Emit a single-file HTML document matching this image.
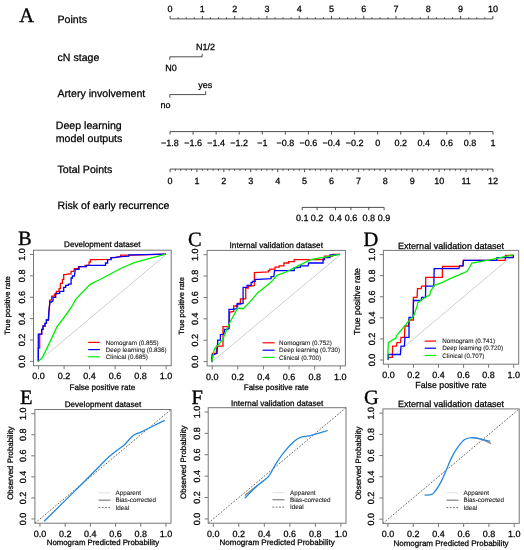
<!DOCTYPE html>
<html><head><meta charset="utf-8"><style>
html,body{margin:0;padding:0;background:#fff;width:524px;height:550px;overflow:hidden}
svg{display:block;text-rendering:geometricPrecision}
text{stroke:currentColor;stroke-width:0.25px}
svg{filter:blur(0.35px)}
</style></head><body>
<svg width="524" height="550" viewBox="0 0 524 550">
<rect width="524" height="550" fill="#fff"/>
<text x="19.2" y="21.9" font-size="20.5" text-anchor="start" fill="#000" color="#000" font-family='"Liberation Serif", serif' style="stroke-width:0.35px">A</text>
<text x="57.5" y="22.6" font-size="10.6" text-anchor="start" fill="#000" color="#000" font-family='"Liberation Sans", sans-serif'>Points</text>
<text x="57.5" y="60.8" font-size="10.6" text-anchor="start" fill="#000" color="#000" font-family='"Liberation Sans", sans-serif'>cN stage</text>
<text x="57.5" y="96.6" font-size="10.6" text-anchor="start" fill="#000" color="#000" font-family='"Liberation Sans", sans-serif'>Artery involvement</text>
<text x="55.8" y="128.6" font-size="10.6" text-anchor="start" fill="#000" color="#000" font-family='"Liberation Sans", sans-serif'>Deep learning</text>
<text x="55.8" y="141.6" font-size="10.6" text-anchor="start" fill="#000" color="#000" font-family='"Liberation Sans", sans-serif'>model outputs</text>
<text x="57.5" y="172.6" font-size="10.6" text-anchor="start" fill="#000" color="#000" font-family='"Liberation Sans", sans-serif'>Total Points</text>
<text x="57.5" y="208.6" font-size="10.6" text-anchor="start" fill="#000" color="#000" font-family='"Liberation Sans", sans-serif'>Risk of early recurrence</text>
<line x1="170.1" y1="18.9" x2="492.9" y2="18.9" stroke="#3a3a3a" stroke-width="0.9"/>
<line x1="170.1" y1="18.9" x2="170.1" y2="15.9" stroke="#3a3a3a" stroke-width="0.9"/>
<text x="170.1" y="12" font-size="9" text-anchor="middle" fill="#000" color="#000" font-family='"Liberation Sans", sans-serif'>0</text>
<line x1="178.17" y1="18.9" x2="178.17" y2="17.3" stroke="#3a3a3a" stroke-width="0.9"/>
<line x1="186.24" y1="18.9" x2="186.24" y2="17.3" stroke="#3a3a3a" stroke-width="0.9"/>
<line x1="194.31" y1="18.9" x2="194.31" y2="17.3" stroke="#3a3a3a" stroke-width="0.9"/>
<line x1="202.38" y1="18.9" x2="202.38" y2="15.9" stroke="#3a3a3a" stroke-width="0.9"/>
<text x="202.38" y="12" font-size="9" text-anchor="middle" fill="#000" color="#000" font-family='"Liberation Sans", sans-serif'>1</text>
<line x1="210.45" y1="18.9" x2="210.45" y2="17.3" stroke="#3a3a3a" stroke-width="0.9"/>
<line x1="218.52" y1="18.9" x2="218.52" y2="17.3" stroke="#3a3a3a" stroke-width="0.9"/>
<line x1="226.59" y1="18.9" x2="226.59" y2="17.3" stroke="#3a3a3a" stroke-width="0.9"/>
<line x1="234.66" y1="18.9" x2="234.66" y2="15.9" stroke="#3a3a3a" stroke-width="0.9"/>
<text x="234.66" y="12" font-size="9" text-anchor="middle" fill="#000" color="#000" font-family='"Liberation Sans", sans-serif'>2</text>
<line x1="242.73" y1="18.9" x2="242.73" y2="17.3" stroke="#3a3a3a" stroke-width="0.9"/>
<line x1="250.8" y1="18.9" x2="250.8" y2="17.3" stroke="#3a3a3a" stroke-width="0.9"/>
<line x1="258.87" y1="18.9" x2="258.87" y2="17.3" stroke="#3a3a3a" stroke-width="0.9"/>
<line x1="266.94" y1="18.9" x2="266.94" y2="15.9" stroke="#3a3a3a" stroke-width="0.9"/>
<text x="266.94" y="12" font-size="9" text-anchor="middle" fill="#000" color="#000" font-family='"Liberation Sans", sans-serif'>3</text>
<line x1="275.01" y1="18.9" x2="275.01" y2="17.3" stroke="#3a3a3a" stroke-width="0.9"/>
<line x1="283.08" y1="18.9" x2="283.08" y2="17.3" stroke="#3a3a3a" stroke-width="0.9"/>
<line x1="291.15" y1="18.9" x2="291.15" y2="17.3" stroke="#3a3a3a" stroke-width="0.9"/>
<line x1="299.22" y1="18.9" x2="299.22" y2="15.9" stroke="#3a3a3a" stroke-width="0.9"/>
<text x="299.22" y="12" font-size="9" text-anchor="middle" fill="#000" color="#000" font-family='"Liberation Sans", sans-serif'>4</text>
<line x1="307.29" y1="18.9" x2="307.29" y2="17.3" stroke="#3a3a3a" stroke-width="0.9"/>
<line x1="315.36" y1="18.9" x2="315.36" y2="17.3" stroke="#3a3a3a" stroke-width="0.9"/>
<line x1="323.43" y1="18.9" x2="323.43" y2="17.3" stroke="#3a3a3a" stroke-width="0.9"/>
<line x1="331.5" y1="18.9" x2="331.5" y2="15.9" stroke="#3a3a3a" stroke-width="0.9"/>
<text x="331.5" y="12" font-size="9" text-anchor="middle" fill="#000" color="#000" font-family='"Liberation Sans", sans-serif'>5</text>
<line x1="339.57" y1="18.9" x2="339.57" y2="17.3" stroke="#3a3a3a" stroke-width="0.9"/>
<line x1="347.64" y1="18.9" x2="347.64" y2="17.3" stroke="#3a3a3a" stroke-width="0.9"/>
<line x1="355.71" y1="18.9" x2="355.71" y2="17.3" stroke="#3a3a3a" stroke-width="0.9"/>
<line x1="363.78" y1="18.9" x2="363.78" y2="15.9" stroke="#3a3a3a" stroke-width="0.9"/>
<text x="363.78" y="12" font-size="9" text-anchor="middle" fill="#000" color="#000" font-family='"Liberation Sans", sans-serif'>6</text>
<line x1="371.85" y1="18.9" x2="371.85" y2="17.3" stroke="#3a3a3a" stroke-width="0.9"/>
<line x1="379.92" y1="18.9" x2="379.92" y2="17.3" stroke="#3a3a3a" stroke-width="0.9"/>
<line x1="387.99" y1="18.9" x2="387.99" y2="17.3" stroke="#3a3a3a" stroke-width="0.9"/>
<line x1="396.06" y1="18.9" x2="396.06" y2="15.9" stroke="#3a3a3a" stroke-width="0.9"/>
<text x="396.06" y="12" font-size="9" text-anchor="middle" fill="#000" color="#000" font-family='"Liberation Sans", sans-serif'>7</text>
<line x1="404.13" y1="18.9" x2="404.13" y2="17.3" stroke="#3a3a3a" stroke-width="0.9"/>
<line x1="412.2" y1="18.9" x2="412.2" y2="17.3" stroke="#3a3a3a" stroke-width="0.9"/>
<line x1="420.27" y1="18.9" x2="420.27" y2="17.3" stroke="#3a3a3a" stroke-width="0.9"/>
<line x1="428.34" y1="18.9" x2="428.34" y2="15.9" stroke="#3a3a3a" stroke-width="0.9"/>
<text x="428.34" y="12" font-size="9" text-anchor="middle" fill="#000" color="#000" font-family='"Liberation Sans", sans-serif'>8</text>
<line x1="436.41" y1="18.9" x2="436.41" y2="17.3" stroke="#3a3a3a" stroke-width="0.9"/>
<line x1="444.48" y1="18.9" x2="444.48" y2="17.3" stroke="#3a3a3a" stroke-width="0.9"/>
<line x1="452.55" y1="18.9" x2="452.55" y2="17.3" stroke="#3a3a3a" stroke-width="0.9"/>
<line x1="460.62" y1="18.9" x2="460.62" y2="15.9" stroke="#3a3a3a" stroke-width="0.9"/>
<text x="460.62" y="12" font-size="9" text-anchor="middle" fill="#000" color="#000" font-family='"Liberation Sans", sans-serif'>9</text>
<line x1="468.69" y1="18.9" x2="468.69" y2="17.3" stroke="#3a3a3a" stroke-width="0.9"/>
<line x1="476.76" y1="18.9" x2="476.76" y2="17.3" stroke="#3a3a3a" stroke-width="0.9"/>
<line x1="484.83" y1="18.9" x2="484.83" y2="17.3" stroke="#3a3a3a" stroke-width="0.9"/>
<line x1="492.9" y1="18.9" x2="492.9" y2="15.9" stroke="#3a3a3a" stroke-width="0.9"/>
<text x="492.9" y="12" font-size="9" text-anchor="middle" fill="#000" color="#000" font-family='"Liberation Sans", sans-serif'>10</text>
<line x1="169.8" y1="56.8" x2="202.2" y2="56.8" stroke="#3a3a3a" stroke-width="0.9"/>
<line x1="169.8" y1="56.8" x2="169.8" y2="59.8" stroke="#3a3a3a" stroke-width="0.9"/>
<line x1="202.2" y1="56.8" x2="202.2" y2="53.8" stroke="#3a3a3a" stroke-width="0.9"/>
<text x="205.5" y="50.3" font-size="9" text-anchor="middle" fill="#000" color="#000" font-family='"Liberation Sans", sans-serif'>N1/2</text>
<text x="171" y="71.3" font-size="9" text-anchor="middle" fill="#000" color="#000" font-family='"Liberation Sans", sans-serif'>N0</text>
<line x1="169.8" y1="94.6" x2="205.7" y2="94.6" stroke="#3a3a3a" stroke-width="0.9"/>
<line x1="169.8" y1="94.6" x2="169.8" y2="97.8" stroke="#3a3a3a" stroke-width="0.9"/>
<line x1="205.7" y1="94.6" x2="205.7" y2="91.2" stroke="#3a3a3a" stroke-width="0.9"/>
<text x="205.3" y="87.5" font-size="9" text-anchor="middle" fill="#000" color="#000" font-family='"Liberation Sans", sans-serif'>yes</text>
<text x="165.4" y="107.5" font-size="9" text-anchor="middle" fill="#000" color="#000" font-family='"Liberation Sans", sans-serif'>no</text>
<line x1="170" y1="131.6" x2="493" y2="131.6" stroke="#3a3a3a" stroke-width="0.9"/>
<line x1="170" y1="131.6" x2="170" y2="134.6" stroke="#3a3a3a" stroke-width="0.9"/>
<text x="170" y="146.2" font-size="9" text-anchor="middle" fill="#000" color="#000" font-family='"Liberation Sans", sans-serif'>−1.8</text>
<line x1="193.07" y1="131.6" x2="193.07" y2="134.6" stroke="#3a3a3a" stroke-width="0.9"/>
<text x="193.07" y="146.2" font-size="9" text-anchor="middle" fill="#000" color="#000" font-family='"Liberation Sans", sans-serif'>−1.6</text>
<line x1="216.14" y1="131.6" x2="216.14" y2="134.6" stroke="#3a3a3a" stroke-width="0.9"/>
<text x="216.14" y="146.2" font-size="9" text-anchor="middle" fill="#000" color="#000" font-family='"Liberation Sans", sans-serif'>−1.4</text>
<line x1="239.21" y1="131.6" x2="239.21" y2="134.6" stroke="#3a3a3a" stroke-width="0.9"/>
<text x="239.21" y="146.2" font-size="9" text-anchor="middle" fill="#000" color="#000" font-family='"Liberation Sans", sans-serif'>−1.2</text>
<line x1="262.29" y1="131.6" x2="262.29" y2="134.6" stroke="#3a3a3a" stroke-width="0.9"/>
<text x="262.29" y="146.2" font-size="9" text-anchor="middle" fill="#000" color="#000" font-family='"Liberation Sans", sans-serif'>−1</text>
<line x1="285.36" y1="131.6" x2="285.36" y2="134.6" stroke="#3a3a3a" stroke-width="0.9"/>
<text x="285.36" y="146.2" font-size="9" text-anchor="middle" fill="#000" color="#000" font-family='"Liberation Sans", sans-serif'>−0.8</text>
<line x1="308.43" y1="131.6" x2="308.43" y2="134.6" stroke="#3a3a3a" stroke-width="0.9"/>
<text x="308.43" y="146.2" font-size="9" text-anchor="middle" fill="#000" color="#000" font-family='"Liberation Sans", sans-serif'>−0.6</text>
<line x1="331.5" y1="131.6" x2="331.5" y2="134.6" stroke="#3a3a3a" stroke-width="0.9"/>
<text x="331.5" y="146.2" font-size="9" text-anchor="middle" fill="#000" color="#000" font-family='"Liberation Sans", sans-serif'>−0.4</text>
<line x1="354.57" y1="131.6" x2="354.57" y2="134.6" stroke="#3a3a3a" stroke-width="0.9"/>
<text x="354.57" y="146.2" font-size="9" text-anchor="middle" fill="#000" color="#000" font-family='"Liberation Sans", sans-serif'>−0.2</text>
<line x1="377.64" y1="131.6" x2="377.64" y2="134.6" stroke="#3a3a3a" stroke-width="0.9"/>
<text x="377.64" y="146.2" font-size="9" text-anchor="middle" fill="#000" color="#000" font-family='"Liberation Sans", sans-serif'>0</text>
<line x1="400.71" y1="131.6" x2="400.71" y2="134.6" stroke="#3a3a3a" stroke-width="0.9"/>
<text x="400.71" y="146.2" font-size="9" text-anchor="middle" fill="#000" color="#000" font-family='"Liberation Sans", sans-serif'>0.2</text>
<line x1="423.79" y1="131.6" x2="423.79" y2="134.6" stroke="#3a3a3a" stroke-width="0.9"/>
<text x="423.79" y="146.2" font-size="9" text-anchor="middle" fill="#000" color="#000" font-family='"Liberation Sans", sans-serif'>0.4</text>
<line x1="446.86" y1="131.6" x2="446.86" y2="134.6" stroke="#3a3a3a" stroke-width="0.9"/>
<text x="446.86" y="146.2" font-size="9" text-anchor="middle" fill="#000" color="#000" font-family='"Liberation Sans", sans-serif'>0.6</text>
<line x1="469.93" y1="131.6" x2="469.93" y2="134.6" stroke="#3a3a3a" stroke-width="0.9"/>
<text x="469.93" y="146.2" font-size="9" text-anchor="middle" fill="#000" color="#000" font-family='"Liberation Sans", sans-serif'>0.8</text>
<line x1="493" y1="131.6" x2="493" y2="134.6" stroke="#3a3a3a" stroke-width="0.9"/>
<text x="493" y="146.2" font-size="9" text-anchor="middle" fill="#000" color="#000" font-family='"Liberation Sans", sans-serif'>1</text>
<line x1="170" y1="169.1" x2="493" y2="169.1" stroke="#3a3a3a" stroke-width="0.9"/>
<line x1="170" y1="169.1" x2="170" y2="172.1" stroke="#3a3a3a" stroke-width="0.9"/>
<text x="170" y="183.9" font-size="9" text-anchor="middle" fill="#000" color="#000" font-family='"Liberation Sans", sans-serif'>0</text>
<line x1="175.38" y1="169.1" x2="175.38" y2="170.8" stroke="#3a3a3a" stroke-width="0.9"/>
<line x1="180.77" y1="169.1" x2="180.77" y2="170.8" stroke="#3a3a3a" stroke-width="0.9"/>
<line x1="186.15" y1="169.1" x2="186.15" y2="170.8" stroke="#3a3a3a" stroke-width="0.9"/>
<line x1="191.53" y1="169.1" x2="191.53" y2="170.8" stroke="#3a3a3a" stroke-width="0.9"/>
<line x1="196.92" y1="169.1" x2="196.92" y2="172.1" stroke="#3a3a3a" stroke-width="0.9"/>
<text x="196.92" y="183.9" font-size="9" text-anchor="middle" fill="#000" color="#000" font-family='"Liberation Sans", sans-serif'>1</text>
<line x1="202.3" y1="169.1" x2="202.3" y2="170.8" stroke="#3a3a3a" stroke-width="0.9"/>
<line x1="207.68" y1="169.1" x2="207.68" y2="170.8" stroke="#3a3a3a" stroke-width="0.9"/>
<line x1="213.07" y1="169.1" x2="213.07" y2="170.8" stroke="#3a3a3a" stroke-width="0.9"/>
<line x1="218.45" y1="169.1" x2="218.45" y2="170.8" stroke="#3a3a3a" stroke-width="0.9"/>
<line x1="223.83" y1="169.1" x2="223.83" y2="172.1" stroke="#3a3a3a" stroke-width="0.9"/>
<text x="223.83" y="183.9" font-size="9" text-anchor="middle" fill="#000" color="#000" font-family='"Liberation Sans", sans-serif'>2</text>
<line x1="229.22" y1="169.1" x2="229.22" y2="170.8" stroke="#3a3a3a" stroke-width="0.9"/>
<line x1="234.6" y1="169.1" x2="234.6" y2="170.8" stroke="#3a3a3a" stroke-width="0.9"/>
<line x1="239.98" y1="169.1" x2="239.98" y2="170.8" stroke="#3a3a3a" stroke-width="0.9"/>
<line x1="245.37" y1="169.1" x2="245.37" y2="170.8" stroke="#3a3a3a" stroke-width="0.9"/>
<line x1="250.75" y1="169.1" x2="250.75" y2="172.1" stroke="#3a3a3a" stroke-width="0.9"/>
<text x="250.75" y="183.9" font-size="9" text-anchor="middle" fill="#000" color="#000" font-family='"Liberation Sans", sans-serif'>3</text>
<line x1="256.13" y1="169.1" x2="256.13" y2="170.8" stroke="#3a3a3a" stroke-width="0.9"/>
<line x1="261.52" y1="169.1" x2="261.52" y2="170.8" stroke="#3a3a3a" stroke-width="0.9"/>
<line x1="266.9" y1="169.1" x2="266.9" y2="170.8" stroke="#3a3a3a" stroke-width="0.9"/>
<line x1="272.28" y1="169.1" x2="272.28" y2="170.8" stroke="#3a3a3a" stroke-width="0.9"/>
<line x1="277.67" y1="169.1" x2="277.67" y2="172.1" stroke="#3a3a3a" stroke-width="0.9"/>
<text x="277.67" y="183.9" font-size="9" text-anchor="middle" fill="#000" color="#000" font-family='"Liberation Sans", sans-serif'>4</text>
<line x1="283.05" y1="169.1" x2="283.05" y2="170.8" stroke="#3a3a3a" stroke-width="0.9"/>
<line x1="288.43" y1="169.1" x2="288.43" y2="170.8" stroke="#3a3a3a" stroke-width="0.9"/>
<line x1="293.82" y1="169.1" x2="293.82" y2="170.8" stroke="#3a3a3a" stroke-width="0.9"/>
<line x1="299.2" y1="169.1" x2="299.2" y2="170.8" stroke="#3a3a3a" stroke-width="0.9"/>
<line x1="304.58" y1="169.1" x2="304.58" y2="172.1" stroke="#3a3a3a" stroke-width="0.9"/>
<text x="304.58" y="183.9" font-size="9" text-anchor="middle" fill="#000" color="#000" font-family='"Liberation Sans", sans-serif'>5</text>
<line x1="309.97" y1="169.1" x2="309.97" y2="170.8" stroke="#3a3a3a" stroke-width="0.9"/>
<line x1="315.35" y1="169.1" x2="315.35" y2="170.8" stroke="#3a3a3a" stroke-width="0.9"/>
<line x1="320.73" y1="169.1" x2="320.73" y2="170.8" stroke="#3a3a3a" stroke-width="0.9"/>
<line x1="326.12" y1="169.1" x2="326.12" y2="170.8" stroke="#3a3a3a" stroke-width="0.9"/>
<line x1="331.5" y1="169.1" x2="331.5" y2="172.1" stroke="#3a3a3a" stroke-width="0.9"/>
<text x="331.5" y="183.9" font-size="9" text-anchor="middle" fill="#000" color="#000" font-family='"Liberation Sans", sans-serif'>6</text>
<line x1="336.88" y1="169.1" x2="336.88" y2="170.8" stroke="#3a3a3a" stroke-width="0.9"/>
<line x1="342.27" y1="169.1" x2="342.27" y2="170.8" stroke="#3a3a3a" stroke-width="0.9"/>
<line x1="347.65" y1="169.1" x2="347.65" y2="170.8" stroke="#3a3a3a" stroke-width="0.9"/>
<line x1="353.03" y1="169.1" x2="353.03" y2="170.8" stroke="#3a3a3a" stroke-width="0.9"/>
<line x1="358.42" y1="169.1" x2="358.42" y2="172.1" stroke="#3a3a3a" stroke-width="0.9"/>
<text x="358.42" y="183.9" font-size="9" text-anchor="middle" fill="#000" color="#000" font-family='"Liberation Sans", sans-serif'>7</text>
<line x1="363.8" y1="169.1" x2="363.8" y2="170.8" stroke="#3a3a3a" stroke-width="0.9"/>
<line x1="369.18" y1="169.1" x2="369.18" y2="170.8" stroke="#3a3a3a" stroke-width="0.9"/>
<line x1="374.57" y1="169.1" x2="374.57" y2="170.8" stroke="#3a3a3a" stroke-width="0.9"/>
<line x1="379.95" y1="169.1" x2="379.95" y2="170.8" stroke="#3a3a3a" stroke-width="0.9"/>
<line x1="385.33" y1="169.1" x2="385.33" y2="172.1" stroke="#3a3a3a" stroke-width="0.9"/>
<text x="385.33" y="183.9" font-size="9" text-anchor="middle" fill="#000" color="#000" font-family='"Liberation Sans", sans-serif'>8</text>
<line x1="390.72" y1="169.1" x2="390.72" y2="170.8" stroke="#3a3a3a" stroke-width="0.9"/>
<line x1="396.1" y1="169.1" x2="396.1" y2="170.8" stroke="#3a3a3a" stroke-width="0.9"/>
<line x1="401.48" y1="169.1" x2="401.48" y2="170.8" stroke="#3a3a3a" stroke-width="0.9"/>
<line x1="406.87" y1="169.1" x2="406.87" y2="170.8" stroke="#3a3a3a" stroke-width="0.9"/>
<line x1="412.25" y1="169.1" x2="412.25" y2="172.1" stroke="#3a3a3a" stroke-width="0.9"/>
<text x="412.25" y="183.9" font-size="9" text-anchor="middle" fill="#000" color="#000" font-family='"Liberation Sans", sans-serif'>9</text>
<line x1="417.63" y1="169.1" x2="417.63" y2="170.8" stroke="#3a3a3a" stroke-width="0.9"/>
<line x1="423.02" y1="169.1" x2="423.02" y2="170.8" stroke="#3a3a3a" stroke-width="0.9"/>
<line x1="428.4" y1="169.1" x2="428.4" y2="170.8" stroke="#3a3a3a" stroke-width="0.9"/>
<line x1="433.78" y1="169.1" x2="433.78" y2="170.8" stroke="#3a3a3a" stroke-width="0.9"/>
<line x1="439.17" y1="169.1" x2="439.17" y2="172.1" stroke="#3a3a3a" stroke-width="0.9"/>
<text x="439.17" y="183.9" font-size="9" text-anchor="middle" fill="#000" color="#000" font-family='"Liberation Sans", sans-serif'>10</text>
<line x1="444.55" y1="169.1" x2="444.55" y2="170.8" stroke="#3a3a3a" stroke-width="0.9"/>
<line x1="449.93" y1="169.1" x2="449.93" y2="170.8" stroke="#3a3a3a" stroke-width="0.9"/>
<line x1="455.32" y1="169.1" x2="455.32" y2="170.8" stroke="#3a3a3a" stroke-width="0.9"/>
<line x1="460.7" y1="169.1" x2="460.7" y2="170.8" stroke="#3a3a3a" stroke-width="0.9"/>
<line x1="466.08" y1="169.1" x2="466.08" y2="172.1" stroke="#3a3a3a" stroke-width="0.9"/>
<text x="466.08" y="183.9" font-size="9" text-anchor="middle" fill="#000" color="#000" font-family='"Liberation Sans", sans-serif'>11</text>
<line x1="471.47" y1="169.1" x2="471.47" y2="170.8" stroke="#3a3a3a" stroke-width="0.9"/>
<line x1="476.85" y1="169.1" x2="476.85" y2="170.8" stroke="#3a3a3a" stroke-width="0.9"/>
<line x1="482.23" y1="169.1" x2="482.23" y2="170.8" stroke="#3a3a3a" stroke-width="0.9"/>
<line x1="487.62" y1="169.1" x2="487.62" y2="170.8" stroke="#3a3a3a" stroke-width="0.9"/>
<line x1="493" y1="169.1" x2="493" y2="172.1" stroke="#3a3a3a" stroke-width="0.9"/>
<text x="493" y="183.9" font-size="9" text-anchor="middle" fill="#000" color="#000" font-family='"Liberation Sans", sans-serif'>12</text>
<line x1="302.2" y1="207.4" x2="384.1" y2="207.4" stroke="#3a3a3a" stroke-width="0.9"/>
<line x1="302.2" y1="207.4" x2="302.2" y2="210.2" stroke="#3a3a3a" stroke-width="0.9"/>
<text x="302.2" y="221" font-size="9" text-anchor="middle" fill="#000" color="#000" font-family='"Liberation Sans", sans-serif'>0.1</text>
<line x1="317.1" y1="207.4" x2="317.1" y2="210.2" stroke="#3a3a3a" stroke-width="0.9"/>
<text x="317.1" y="221" font-size="9" text-anchor="middle" fill="#000" color="#000" font-family='"Liberation Sans", sans-serif'>0.2</text>
<line x1="335.4" y1="207.4" x2="335.4" y2="210.2" stroke="#3a3a3a" stroke-width="0.9"/>
<text x="335.4" y="221" font-size="9" text-anchor="middle" fill="#000" color="#000" font-family='"Liberation Sans", sans-serif'>0.4</text>
<line x1="350.9" y1="207.4" x2="350.9" y2="210.2" stroke="#3a3a3a" stroke-width="0.9"/>
<text x="350.9" y="221" font-size="9" text-anchor="middle" fill="#000" color="#000" font-family='"Liberation Sans", sans-serif'>0.6</text>
<line x1="368.8" y1="207.4" x2="368.8" y2="210.2" stroke="#3a3a3a" stroke-width="0.9"/>
<text x="368.8" y="221" font-size="9" text-anchor="middle" fill="#000" color="#000" font-family='"Liberation Sans", sans-serif'>0.8</text>
<line x1="384.1" y1="207.4" x2="384.1" y2="210.2" stroke="#3a3a3a" stroke-width="0.9"/>
<text x="384.1" y="221" font-size="9" text-anchor="middle" fill="#000" color="#000" font-family='"Liberation Sans", sans-serif'>0.9</text>
<rect x="33.5" y="250.2" width="137.7" height="115.5" fill="none" stroke="#777" stroke-width="1"/>
<line x1="38.6" y1="365.7" x2="38.6" y2="369.3" stroke="#777" stroke-width="1"/>
<text x="38.6" y="379.3" font-size="9" text-anchor="middle" fill="#000" color="#000" font-family='"Liberation Sans", sans-serif'>0.0</text>
<line x1="33.5" y1="361.42" x2="29.9" y2="361.42" stroke="#777" stroke-width="1"/>
<text x="24.9" y="361.42" font-size="9" text-anchor="middle" fill="#000" color="#000" font-family='"Liberation Sans", sans-serif' transform="rotate(-90 24.9 361.42)">0.0</text>
<line x1="64.1" y1="365.7" x2="64.1" y2="369.3" stroke="#777" stroke-width="1"/>
<text x="64.1" y="379.3" font-size="9" text-anchor="middle" fill="#000" color="#000" font-family='"Liberation Sans", sans-serif'>0.2</text>
<line x1="33.5" y1="340.03" x2="29.9" y2="340.03" stroke="#777" stroke-width="1"/>
<text x="24.9" y="340.03" font-size="9" text-anchor="middle" fill="#000" color="#000" font-family='"Liberation Sans", sans-serif' transform="rotate(-90 24.9 340.03)">0.2</text>
<line x1="89.6" y1="365.7" x2="89.6" y2="369.3" stroke="#777" stroke-width="1"/>
<text x="89.6" y="379.3" font-size="9" text-anchor="middle" fill="#000" color="#000" font-family='"Liberation Sans", sans-serif'>0.4</text>
<line x1="33.5" y1="318.64" x2="29.9" y2="318.64" stroke="#777" stroke-width="1"/>
<text x="24.9" y="318.64" font-size="9" text-anchor="middle" fill="#000" color="#000" font-family='"Liberation Sans", sans-serif' transform="rotate(-90 24.9 318.64)">0.4</text>
<line x1="115.1" y1="365.7" x2="115.1" y2="369.3" stroke="#777" stroke-width="1"/>
<text x="115.1" y="379.3" font-size="9" text-anchor="middle" fill="#000" color="#000" font-family='"Liberation Sans", sans-serif'>0.6</text>
<line x1="33.5" y1="297.26" x2="29.9" y2="297.26" stroke="#777" stroke-width="1"/>
<text x="24.9" y="297.26" font-size="9" text-anchor="middle" fill="#000" color="#000" font-family='"Liberation Sans", sans-serif' transform="rotate(-90 24.9 297.26)">0.6</text>
<line x1="140.6" y1="365.7" x2="140.6" y2="369.3" stroke="#777" stroke-width="1"/>
<text x="140.6" y="379.3" font-size="9" text-anchor="middle" fill="#000" color="#000" font-family='"Liberation Sans", sans-serif'>0.8</text>
<line x1="33.5" y1="275.87" x2="29.9" y2="275.87" stroke="#777" stroke-width="1"/>
<text x="24.9" y="275.87" font-size="9" text-anchor="middle" fill="#000" color="#000" font-family='"Liberation Sans", sans-serif' transform="rotate(-90 24.9 275.87)">0.8</text>
<line x1="166.1" y1="365.7" x2="166.1" y2="369.3" stroke="#777" stroke-width="1"/>
<text x="166.1" y="379.3" font-size="9" text-anchor="middle" fill="#000" color="#000" font-family='"Liberation Sans", sans-serif'>1.0</text>
<line x1="33.5" y1="254.48" x2="29.9" y2="254.48" stroke="#777" stroke-width="1"/>
<text x="24.9" y="254.48" font-size="9" text-anchor="middle" fill="#000" color="#000" font-family='"Liberation Sans", sans-serif' transform="rotate(-90 24.9 254.48)">1.0</text>
<text x="102.35" y="389.7" font-size="8.1" text-anchor="middle" fill="#000" color="#000" font-family='"Liberation Sans", sans-serif'>False positive rate</text>
<text x="10.3" y="305.45" font-size="7.6" text-anchor="middle" fill="#000" color="#000" font-family='"Liberation Sans", sans-serif' transform="rotate(-90 10.3 305.45)">True positive rate</text>
<text x="102.35" y="247.2" font-size="8.1" text-anchor="middle" fill="#000" color="#000" font-family='"Liberation Sans", sans-serif'>Development dataset</text>
<text x="18" y="245.2" font-size="20.5" text-anchor="start" fill="#000" color="#000" font-family='"Liberation Serif", serif' style="stroke-width:0.35px">B</text>
<rect x="207.1" y="250.4" width="138.3" height="115.5" fill="none" stroke="#777" stroke-width="1"/>
<line x1="212.22" y1="365.9" x2="212.22" y2="369.5" stroke="#777" stroke-width="1"/>
<text x="212.22" y="379.5" font-size="9" text-anchor="middle" fill="#000" color="#000" font-family='"Liberation Sans", sans-serif'>0.0</text>
<line x1="207.1" y1="361.62" x2="203.5" y2="361.62" stroke="#777" stroke-width="1"/>
<text x="198.5" y="361.62" font-size="9" text-anchor="middle" fill="#000" color="#000" font-family='"Liberation Sans", sans-serif' transform="rotate(-90 198.5 361.62)">0.0</text>
<line x1="237.83" y1="365.9" x2="237.83" y2="369.5" stroke="#777" stroke-width="1"/>
<text x="237.83" y="379.5" font-size="9" text-anchor="middle" fill="#000" color="#000" font-family='"Liberation Sans", sans-serif'>0.2</text>
<line x1="207.1" y1="340.23" x2="203.5" y2="340.23" stroke="#777" stroke-width="1"/>
<text x="198.5" y="340.23" font-size="9" text-anchor="middle" fill="#000" color="#000" font-family='"Liberation Sans", sans-serif' transform="rotate(-90 198.5 340.23)">0.2</text>
<line x1="263.44" y1="365.9" x2="263.44" y2="369.5" stroke="#777" stroke-width="1"/>
<text x="263.44" y="379.5" font-size="9" text-anchor="middle" fill="#000" color="#000" font-family='"Liberation Sans", sans-serif'>0.4</text>
<line x1="207.1" y1="318.84" x2="203.5" y2="318.84" stroke="#777" stroke-width="1"/>
<text x="198.5" y="318.84" font-size="9" text-anchor="middle" fill="#000" color="#000" font-family='"Liberation Sans", sans-serif' transform="rotate(-90 198.5 318.84)">0.4</text>
<line x1="289.06" y1="365.9" x2="289.06" y2="369.5" stroke="#777" stroke-width="1"/>
<text x="289.06" y="379.5" font-size="9" text-anchor="middle" fill="#000" color="#000" font-family='"Liberation Sans", sans-serif'>0.6</text>
<line x1="207.1" y1="297.46" x2="203.5" y2="297.46" stroke="#777" stroke-width="1"/>
<text x="198.5" y="297.46" font-size="9" text-anchor="middle" fill="#000" color="#000" font-family='"Liberation Sans", sans-serif' transform="rotate(-90 198.5 297.46)">0.6</text>
<line x1="314.67" y1="365.9" x2="314.67" y2="369.5" stroke="#777" stroke-width="1"/>
<text x="314.67" y="379.5" font-size="9" text-anchor="middle" fill="#000" color="#000" font-family='"Liberation Sans", sans-serif'>0.8</text>
<line x1="207.1" y1="276.07" x2="203.5" y2="276.07" stroke="#777" stroke-width="1"/>
<text x="198.5" y="276.07" font-size="9" text-anchor="middle" fill="#000" color="#000" font-family='"Liberation Sans", sans-serif' transform="rotate(-90 198.5 276.07)">0.8</text>
<line x1="340.28" y1="365.9" x2="340.28" y2="369.5" stroke="#777" stroke-width="1"/>
<text x="340.28" y="379.5" font-size="9" text-anchor="middle" fill="#000" color="#000" font-family='"Liberation Sans", sans-serif'>1.0</text>
<line x1="207.1" y1="254.68" x2="203.5" y2="254.68" stroke="#777" stroke-width="1"/>
<text x="198.5" y="254.68" font-size="9" text-anchor="middle" fill="#000" color="#000" font-family='"Liberation Sans", sans-serif' transform="rotate(-90 198.5 254.68)">1.0</text>
<text x="276.25" y="389.9" font-size="8" text-anchor="middle" fill="#000" color="#000" font-family='"Liberation Sans", sans-serif'>False positive rate</text>
<text x="183.9" y="305.95" font-size="7.5" text-anchor="middle" fill="#000" color="#000" font-family='"Liberation Sans", sans-serif' transform="rotate(-90 183.9 305.95)">True positive rate</text>
<text x="276.25" y="247.7" font-size="8.2" text-anchor="middle" fill="#000" color="#000" font-family='"Liberation Sans", sans-serif'>Internal validation dataset</text>
<text x="188" y="245.6" font-size="20.5" text-anchor="start" fill="#000" color="#000" font-family='"Liberation Serif", serif' style="stroke-width:0.35px">C</text>
<rect x="383.4" y="250.4" width="135.3" height="113.8" fill="none" stroke="#777" stroke-width="1"/>
<line x1="388.41" y1="364.2" x2="388.41" y2="367.8" stroke="#777" stroke-width="1"/>
<text x="388.41" y="377.8" font-size="9" text-anchor="middle" fill="#000" color="#000" font-family='"Liberation Sans", sans-serif'>0.0</text>
<line x1="383.4" y1="359.99" x2="379.8" y2="359.99" stroke="#777" stroke-width="1"/>
<text x="374.8" y="359.99" font-size="9" text-anchor="middle" fill="#000" color="#000" font-family='"Liberation Sans", sans-serif' transform="rotate(-90 374.8 359.99)">0.0</text>
<line x1="413.47" y1="364.2" x2="413.47" y2="367.8" stroke="#777" stroke-width="1"/>
<text x="413.47" y="377.8" font-size="9" text-anchor="middle" fill="#000" color="#000" font-family='"Liberation Sans", sans-serif'>0.2</text>
<line x1="383.4" y1="338.91" x2="379.8" y2="338.91" stroke="#777" stroke-width="1"/>
<text x="374.8" y="338.91" font-size="9" text-anchor="middle" fill="#000" color="#000" font-family='"Liberation Sans", sans-serif' transform="rotate(-90 374.8 338.91)">0.2</text>
<line x1="438.52" y1="364.2" x2="438.52" y2="367.8" stroke="#777" stroke-width="1"/>
<text x="438.52" y="377.8" font-size="9" text-anchor="middle" fill="#000" color="#000" font-family='"Liberation Sans", sans-serif'>0.4</text>
<line x1="383.4" y1="317.84" x2="379.8" y2="317.84" stroke="#777" stroke-width="1"/>
<text x="374.8" y="317.84" font-size="9" text-anchor="middle" fill="#000" color="#000" font-family='"Liberation Sans", sans-serif' transform="rotate(-90 374.8 317.84)">0.4</text>
<line x1="463.58" y1="364.2" x2="463.58" y2="367.8" stroke="#777" stroke-width="1"/>
<text x="463.58" y="377.8" font-size="9" text-anchor="middle" fill="#000" color="#000" font-family='"Liberation Sans", sans-serif'>0.6</text>
<line x1="383.4" y1="296.76" x2="379.8" y2="296.76" stroke="#777" stroke-width="1"/>
<text x="374.8" y="296.76" font-size="9" text-anchor="middle" fill="#000" color="#000" font-family='"Liberation Sans", sans-serif' transform="rotate(-90 374.8 296.76)">0.6</text>
<line x1="488.63" y1="364.2" x2="488.63" y2="367.8" stroke="#777" stroke-width="1"/>
<text x="488.63" y="377.8" font-size="9" text-anchor="middle" fill="#000" color="#000" font-family='"Liberation Sans", sans-serif'>0.8</text>
<line x1="383.4" y1="275.69" x2="379.8" y2="275.69" stroke="#777" stroke-width="1"/>
<text x="374.8" y="275.69" font-size="9" text-anchor="middle" fill="#000" color="#000" font-family='"Liberation Sans", sans-serif' transform="rotate(-90 374.8 275.69)">0.8</text>
<line x1="513.69" y1="364.2" x2="513.69" y2="367.8" stroke="#777" stroke-width="1"/>
<text x="513.69" y="377.8" font-size="9" text-anchor="middle" fill="#000" color="#000" font-family='"Liberation Sans", sans-serif'>1.0</text>
<line x1="383.4" y1="254.61" x2="379.8" y2="254.61" stroke="#777" stroke-width="1"/>
<text x="374.8" y="254.61" font-size="9" text-anchor="middle" fill="#000" color="#000" font-family='"Liberation Sans", sans-serif' transform="rotate(-90 374.8 254.61)">1.0</text>
<text x="451.05" y="388.2" font-size="8.8" text-anchor="middle" fill="#000" color="#000" font-family='"Liberation Sans", sans-serif'>False positive rate</text>
<text x="360.4" y="301.5" font-size="8.7" text-anchor="middle" fill="#000" color="#000" font-family='"Liberation Sans", sans-serif' transform="rotate(-90 360.4 301.5)">True positive rate</text>
<text x="451.05" y="248.8" font-size="9.05" text-anchor="middle" fill="#000" color="#000" font-family='"Liberation Sans", sans-serif'>External validation dataset</text>
<text x="363.5" y="245.6" font-size="20.5" text-anchor="start" fill="#000" color="#000" font-family='"Liberation Serif", serif' style="stroke-width:0.35px">D</text>
<rect x="34.9" y="409.5" width="136.1" height="113.7" fill="none" stroke="#777" stroke-width="1"/>
<line x1="39.94" y1="523.2" x2="39.94" y2="526.8" stroke="#777" stroke-width="1"/>
<text x="39.94" y="536.8" font-size="9" text-anchor="middle" fill="#000" color="#000" font-family='"Liberation Sans", sans-serif'>0.0</text>
<line x1="34.9" y1="518.99" x2="31.3" y2="518.99" stroke="#777" stroke-width="1"/>
<text x="26.3" y="518.99" font-size="9" text-anchor="middle" fill="#000" color="#000" font-family='"Liberation Sans", sans-serif' transform="rotate(-90 26.3 518.99)">0.0</text>
<line x1="65.14" y1="523.2" x2="65.14" y2="526.8" stroke="#777" stroke-width="1"/>
<text x="65.14" y="536.8" font-size="9" text-anchor="middle" fill="#000" color="#000" font-family='"Liberation Sans", sans-serif'>0.2</text>
<line x1="34.9" y1="497.93" x2="31.3" y2="497.93" stroke="#777" stroke-width="1"/>
<text x="26.3" y="497.93" font-size="9" text-anchor="middle" fill="#000" color="#000" font-family='"Liberation Sans", sans-serif' transform="rotate(-90 26.3 497.93)">0.2</text>
<line x1="90.35" y1="523.2" x2="90.35" y2="526.8" stroke="#777" stroke-width="1"/>
<text x="90.35" y="536.8" font-size="9" text-anchor="middle" fill="#000" color="#000" font-family='"Liberation Sans", sans-serif'>0.4</text>
<line x1="34.9" y1="476.88" x2="31.3" y2="476.88" stroke="#777" stroke-width="1"/>
<text x="26.3" y="476.88" font-size="9" text-anchor="middle" fill="#000" color="#000" font-family='"Liberation Sans", sans-serif' transform="rotate(-90 26.3 476.88)">0.4</text>
<line x1="115.55" y1="523.2" x2="115.55" y2="526.8" stroke="#777" stroke-width="1"/>
<text x="115.55" y="536.8" font-size="9" text-anchor="middle" fill="#000" color="#000" font-family='"Liberation Sans", sans-serif'>0.6</text>
<line x1="34.9" y1="455.82" x2="31.3" y2="455.82" stroke="#777" stroke-width="1"/>
<text x="26.3" y="455.82" font-size="9" text-anchor="middle" fill="#000" color="#000" font-family='"Liberation Sans", sans-serif' transform="rotate(-90 26.3 455.82)">0.6</text>
<line x1="140.76" y1="523.2" x2="140.76" y2="526.8" stroke="#777" stroke-width="1"/>
<text x="140.76" y="536.8" font-size="9" text-anchor="middle" fill="#000" color="#000" font-family='"Liberation Sans", sans-serif'>0.8</text>
<line x1="34.9" y1="434.77" x2="31.3" y2="434.77" stroke="#777" stroke-width="1"/>
<text x="26.3" y="434.77" font-size="9" text-anchor="middle" fill="#000" color="#000" font-family='"Liberation Sans", sans-serif' transform="rotate(-90 26.3 434.77)">0.8</text>
<line x1="165.96" y1="523.2" x2="165.96" y2="526.8" stroke="#777" stroke-width="1"/>
<text x="165.96" y="536.8" font-size="9" text-anchor="middle" fill="#000" color="#000" font-family='"Liberation Sans", sans-serif'>1.0</text>
<line x1="34.9" y1="413.71" x2="31.3" y2="413.71" stroke="#777" stroke-width="1"/>
<text x="26.3" y="413.71" font-size="9" text-anchor="middle" fill="#000" color="#000" font-family='"Liberation Sans", sans-serif' transform="rotate(-90 26.3 413.71)">1.0</text>
<text x="102.95" y="545.4" font-size="7.8" text-anchor="middle" fill="#000" color="#000" font-family='"Liberation Sans", sans-serif'>Nomogram Predicted Probability</text>
<text x="13.1" y="463.15" font-size="7.9" text-anchor="middle" fill="#000" color="#000" font-family='"Liberation Sans", sans-serif' transform="rotate(-90 13.1 463.15)">Observed Probability</text>
<text x="102.95" y="406.8" font-size="8.1" text-anchor="middle" fill="#000" color="#000" font-family='"Liberation Sans", sans-serif'>Development dataset</text>
<text x="20" y="404.2" font-size="20.5" text-anchor="start" fill="#000" color="#000" font-family='"Liberation Serif", serif' style="stroke-width:0.35px">E</text>
<rect x="208.2" y="407.7" width="137.8" height="115.5" fill="none" stroke="#777" stroke-width="1"/>
<line x1="213.3" y1="523.2" x2="213.3" y2="526.8" stroke="#777" stroke-width="1"/>
<text x="213.3" y="536.8" font-size="9" text-anchor="middle" fill="#000" color="#000" font-family='"Liberation Sans", sans-serif'>0.0</text>
<line x1="208.2" y1="518.92" x2="204.6" y2="518.92" stroke="#777" stroke-width="1"/>
<text x="199.6" y="518.92" font-size="9" text-anchor="middle" fill="#000" color="#000" font-family='"Liberation Sans", sans-serif' transform="rotate(-90 199.6 518.92)">0.0</text>
<line x1="238.82" y1="523.2" x2="238.82" y2="526.8" stroke="#777" stroke-width="1"/>
<text x="238.82" y="536.8" font-size="9" text-anchor="middle" fill="#000" color="#000" font-family='"Liberation Sans", sans-serif'>0.2</text>
<line x1="208.2" y1="497.53" x2="204.6" y2="497.53" stroke="#777" stroke-width="1"/>
<text x="199.6" y="497.53" font-size="9" text-anchor="middle" fill="#000" color="#000" font-family='"Liberation Sans", sans-serif' transform="rotate(-90 199.6 497.53)">0.2</text>
<line x1="264.34" y1="523.2" x2="264.34" y2="526.8" stroke="#777" stroke-width="1"/>
<text x="264.34" y="536.8" font-size="9" text-anchor="middle" fill="#000" color="#000" font-family='"Liberation Sans", sans-serif'>0.4</text>
<line x1="208.2" y1="476.14" x2="204.6" y2="476.14" stroke="#777" stroke-width="1"/>
<text x="199.6" y="476.14" font-size="9" text-anchor="middle" fill="#000" color="#000" font-family='"Liberation Sans", sans-serif' transform="rotate(-90 199.6 476.14)">0.4</text>
<line x1="289.86" y1="523.2" x2="289.86" y2="526.8" stroke="#777" stroke-width="1"/>
<text x="289.86" y="536.8" font-size="9" text-anchor="middle" fill="#000" color="#000" font-family='"Liberation Sans", sans-serif'>0.6</text>
<line x1="208.2" y1="454.76" x2="204.6" y2="454.76" stroke="#777" stroke-width="1"/>
<text x="199.6" y="454.76" font-size="9" text-anchor="middle" fill="#000" color="#000" font-family='"Liberation Sans", sans-serif' transform="rotate(-90 199.6 454.76)">0.6</text>
<line x1="315.38" y1="523.2" x2="315.38" y2="526.8" stroke="#777" stroke-width="1"/>
<text x="315.38" y="536.8" font-size="9" text-anchor="middle" fill="#000" color="#000" font-family='"Liberation Sans", sans-serif'>0.8</text>
<line x1="208.2" y1="433.37" x2="204.6" y2="433.37" stroke="#777" stroke-width="1"/>
<text x="199.6" y="433.37" font-size="9" text-anchor="middle" fill="#000" color="#000" font-family='"Liberation Sans", sans-serif' transform="rotate(-90 199.6 433.37)">0.8</text>
<line x1="340.9" y1="523.2" x2="340.9" y2="526.8" stroke="#777" stroke-width="1"/>
<text x="340.9" y="536.8" font-size="9" text-anchor="middle" fill="#000" color="#000" font-family='"Liberation Sans", sans-serif'>1.0</text>
<line x1="208.2" y1="411.98" x2="204.6" y2="411.98" stroke="#777" stroke-width="1"/>
<text x="199.6" y="411.98" font-size="9" text-anchor="middle" fill="#000" color="#000" font-family='"Liberation Sans", sans-serif' transform="rotate(-90 199.6 411.98)">1.0</text>
<text x="277.1" y="545.4" font-size="8" text-anchor="middle" fill="#000" color="#000" font-family='"Liberation Sans", sans-serif'>Nomogram Predicted Probability</text>
<text x="185.9" y="462.25" font-size="7.9" text-anchor="middle" fill="#000" color="#000" font-family='"Liberation Sans", sans-serif' transform="rotate(-90 185.9 462.25)">Observed Probability</text>
<text x="277.1" y="406.1" font-size="8.1" text-anchor="middle" fill="#000" color="#000" font-family='"Liberation Sans", sans-serif'>Internal validation dataset</text>
<text x="191.5" y="403.9" font-size="20.5" text-anchor="start" fill="#000" color="#000" font-family='"Liberation Serif", serif' style="stroke-width:0.35px">F</text>
<rect x="382.9" y="408.9" width="136.3" height="114.5" fill="none" stroke="#777" stroke-width="1"/>
<line x1="387.95" y1="523.4" x2="387.95" y2="527" stroke="#777" stroke-width="1"/>
<text x="387.95" y="537" font-size="9" text-anchor="middle" fill="#000" color="#000" font-family='"Liberation Sans", sans-serif'>0.0</text>
<line x1="382.9" y1="519.16" x2="379.3" y2="519.16" stroke="#777" stroke-width="1"/>
<text x="374.3" y="519.16" font-size="9" text-anchor="middle" fill="#000" color="#000" font-family='"Liberation Sans", sans-serif' transform="rotate(-90 374.3 519.16)">0.0</text>
<line x1="413.19" y1="523.4" x2="413.19" y2="527" stroke="#777" stroke-width="1"/>
<text x="413.19" y="537" font-size="9" text-anchor="middle" fill="#000" color="#000" font-family='"Liberation Sans", sans-serif'>0.2</text>
<line x1="382.9" y1="497.96" x2="379.3" y2="497.96" stroke="#777" stroke-width="1"/>
<text x="374.3" y="497.96" font-size="9" text-anchor="middle" fill="#000" color="#000" font-family='"Liberation Sans", sans-serif' transform="rotate(-90 374.3 497.96)">0.2</text>
<line x1="438.43" y1="523.4" x2="438.43" y2="527" stroke="#777" stroke-width="1"/>
<text x="438.43" y="537" font-size="9" text-anchor="middle" fill="#000" color="#000" font-family='"Liberation Sans", sans-serif'>0.4</text>
<line x1="382.9" y1="476.75" x2="379.3" y2="476.75" stroke="#777" stroke-width="1"/>
<text x="374.3" y="476.75" font-size="9" text-anchor="middle" fill="#000" color="#000" font-family='"Liberation Sans", sans-serif' transform="rotate(-90 374.3 476.75)">0.4</text>
<line x1="463.67" y1="523.4" x2="463.67" y2="527" stroke="#777" stroke-width="1"/>
<text x="463.67" y="537" font-size="9" text-anchor="middle" fill="#000" color="#000" font-family='"Liberation Sans", sans-serif'>0.6</text>
<line x1="382.9" y1="455.55" x2="379.3" y2="455.55" stroke="#777" stroke-width="1"/>
<text x="374.3" y="455.55" font-size="9" text-anchor="middle" fill="#000" color="#000" font-family='"Liberation Sans", sans-serif' transform="rotate(-90 374.3 455.55)">0.6</text>
<line x1="488.91" y1="523.4" x2="488.91" y2="527" stroke="#777" stroke-width="1"/>
<text x="488.91" y="537" font-size="9" text-anchor="middle" fill="#000" color="#000" font-family='"Liberation Sans", sans-serif'>0.8</text>
<line x1="382.9" y1="434.34" x2="379.3" y2="434.34" stroke="#777" stroke-width="1"/>
<text x="374.3" y="434.34" font-size="9" text-anchor="middle" fill="#000" color="#000" font-family='"Liberation Sans", sans-serif' transform="rotate(-90 374.3 434.34)">0.8</text>
<line x1="514.15" y1="523.4" x2="514.15" y2="527" stroke="#777" stroke-width="1"/>
<text x="514.15" y="537" font-size="9" text-anchor="middle" fill="#000" color="#000" font-family='"Liberation Sans", sans-serif'>1.0</text>
<line x1="382.9" y1="413.14" x2="379.3" y2="413.14" stroke="#777" stroke-width="1"/>
<text x="374.3" y="413.14" font-size="9" text-anchor="middle" fill="#000" color="#000" font-family='"Liberation Sans", sans-serif' transform="rotate(-90 374.3 413.14)">1.0</text>
<text x="451.05" y="545.6" font-size="8" text-anchor="middle" fill="#000" color="#000" font-family='"Liberation Sans", sans-serif'>Nomogram Predicted Probability</text>
<text x="360.9" y="463.15" font-size="7.9" text-anchor="middle" fill="#000" color="#000" font-family='"Liberation Sans", sans-serif' transform="rotate(-90 360.9 463.15)">Observed Probability</text>
<text x="451.05" y="407.3" font-size="9.05" text-anchor="middle" fill="#000" color="#000" font-family='"Liberation Sans", sans-serif'>External validation dataset</text>
<text x="364" y="404.2" font-size="20.5" text-anchor="start" fill="#000" color="#000" font-family='"Liberation Serif", serif' style="stroke-width:0.35px">G</text>
<line x1="38.6" y1="361.42" x2="166.1" y2="254.48" stroke="#cfcfcf" stroke-width="1"/>
<polyline points="38.3,361.4 38.3,348 39.7,348 39.7,337.4 39.7,334.1 41.7,334.1 41.7,329.4 43,329.4 43,326 45,326 45,323.4 46.4,323.4 46.4,320 48.4,320 49,310.7 49.7,303.4 49.7,300.1 51.7,300.1 51.7,296.1 54.4,296.1 54.4,294.1 56.4,294.1 56.4,291.4 59,291.4 59,288.7 60.4,288.7 60.4,283.4 62.4,283.4 62.4,279.4 63.7,279.4 63.7,274.7 65.7,274.7 68.4,273.8 71.1,273.8 71.1,271.4 73.7,271.4 74.4,268.7 78.4,268.7 78.4,266.7 85.1,266.7 85.1,265.4 89.1,265.4 89.1,262 90.4,262 90.4,259.6 95.8,259.6 111,259.3 111,257.6 113,257.6 120.6,256.6 120.6,255.2 133,255.2 166,254.1" fill="none" stroke="#ff0000" stroke-width="1.3" stroke-linejoin="miter"/>
<polyline points="38.3,361.4 38.3,336.1 38.3,334.1 41.7,334.1 41.7,329.4 43,329.4 43,326 45,326 45,323.4 46.4,323.4 46.4,320 48.4,320 49,310.7 49.7,304 49.7,302 51.7,302 53,300.8 53,297.4 55.7,297.4 55.7,293.4 59.7,293.4 59.7,291.4 63.7,291.4 63.7,287.4 65.7,287.4 65.7,285.4 68.4,285.4 68.4,284.1 71.1,284.1 71.1,278 72.4,278 72.4,276 74.4,276 75.1,270.7 75.1,269.4 79.1,269.4 79.1,266.7 86.4,266.7 86.4,265.4 92.4,265.4 105.5,265.4 105.5,263 107.6,263 107.6,259.6 111,259.6 111,257.6 115.1,257.6 120.6,256.6 128.9,256.2 128.9,254.8 133,254.8 166,254.1" fill="none" stroke="#0000ff" stroke-width="1.3" stroke-linejoin="miter"/>
<polyline points="38.3,361.4 42.4,357.4 46.4,349.4 51.7,338.1 57,326.7 63.7,318 71.7,306.7 75.7,299.4 90.4,284.1 100,279.5 120.6,268.5 134.3,262.6 150.8,258.2 166,254.1" fill="none" stroke="#00ee00" stroke-width="1.3"/>
<line x1="88.2" y1="342.4" x2="99.8" y2="342.4" stroke="#ff0000" stroke-width="1.2"/>
<text x="105.8" y="344.6" font-size="6.3" text-anchor="start" fill="#222" color="#222" font-family='"Liberation Sans", sans-serif' style="stroke-width:0.1px">Nomogram (0.855)</text>
<line x1="88.2" y1="349.6" x2="99.8" y2="349.6" stroke="#0000ff" stroke-width="1.2"/>
<text x="105.8" y="351.8" font-size="6.3" text-anchor="start" fill="#222" color="#222" font-family='"Liberation Sans", sans-serif' style="stroke-width:0.1px">Deep learning (0.836)</text>
<line x1="88.2" y1="356.8" x2="99.8" y2="356.8" stroke="#00ee00" stroke-width="1.2"/>
<text x="105.8" y="359" font-size="6.3" text-anchor="start" fill="#222" color="#222" font-family='"Liberation Sans", sans-serif' style="stroke-width:0.1px">Clinical (0.685)</text>
<line x1="212.22" y1="361.62" x2="340.28" y2="254.68" stroke="#cfcfcf" stroke-width="1"/>
<polyline points="211.7,362.1 212.3,354.8 212.3,353.4 216.4,353.4 216.4,346.1 217.7,346.1 223,346.1 223,328.7 223,326.7 226.4,326.7 229,326.7 229.7,312 233.7,311.4 233.7,306 237.7,306 237.7,303.4 240.4,303.4 240.4,298.8 243.7,298.8 245.7,298.8 245.7,289.4 245.7,288.1 248.4,288.1 248.4,286.1 251.1,286.1 254.4,285.4 254.4,272.7 268.4,272 268.4,270.7 269.8,270.7 269.8,269.2 275,269.2 275,267.2 279.1,267.2 279.1,265.8 283.9,265.8 283.9,263 288.7,263 288.7,261.7 294.2,261.7 294.2,259.6 297.7,259.6 323.1,259.6 323.1,258.2 324.5,258.2 324.5,256.2 332.7,256.2 332.7,254.4 339.6,254.4" fill="none" stroke="#ff0000" stroke-width="1.3" stroke-linejoin="miter"/>
<polyline points="211.7,362.1 212.3,354.8 215,354.1 217,353.4 217.7,341.4 217.7,340.1 220.4,340.1 220.4,334.7 223.7,334.1 224.4,331.4 224.4,329.4 227,329.4 229,328.7 229,312 229,309.4 231.7,309.4 237,308.7 237,304 240.4,304 243.1,303.3 243.1,288.7 243.1,287.4 247.1,287.4 247.1,285.4 251.1,285.4 251.1,282.7 252.4,282.7 252.4,281.4 255.1,281.4 255.1,279.4 257.8,279.4 271.1,278.7 271.1,276.7 273.8,276.7 274.5,270.6 294.2,270.6 294.2,267.9 295.6,267.9 300.4,267.2 300.4,265.8 308,265.8 308.7,263 323.1,263 323.1,259.6 324.5,259.6 324.5,257.6 330,257.6 330,254.8 334.1,254.8 339.6,254.4" fill="none" stroke="#0000ff" stroke-width="1.3" stroke-linejoin="miter"/>
<polyline points="211.7,362.1 214.3,349.4 222.4,340.1 229.7,322.7 237.7,308 243.1,308.7 249.7,302.1 257.8,292.7 264.4,287.4 271.1,282.1 277,275.4 286,272 295.6,267.2 310.7,259.6 339.6,254.4" fill="none" stroke="#00ee00" stroke-width="1.3"/>
<line x1="262.6" y1="342.8" x2="274.6" y2="342.8" stroke="#ff0000" stroke-width="1.2"/>
<text x="279.1" y="345" font-size="6.3" text-anchor="start" fill="#222" color="#222" font-family='"Liberation Sans", sans-serif' style="stroke-width:0.1px">Nomogram (0.752)</text>
<line x1="262.6" y1="350.2" x2="274.6" y2="350.2" stroke="#0000ff" stroke-width="1.2"/>
<text x="279.1" y="352.4" font-size="6.3" text-anchor="start" fill="#222" color="#222" font-family='"Liberation Sans", sans-serif' style="stroke-width:0.1px">Deep learning (0.730)</text>
<line x1="262.6" y1="357.4" x2="274.6" y2="357.4" stroke="#00ee00" stroke-width="1.2"/>
<text x="279.1" y="359.6" font-size="6.3" text-anchor="start" fill="#222" color="#222" font-family='"Liberation Sans", sans-serif' style="stroke-width:0.1px">Clinical (0.700)</text>
<line x1="388.41" y1="359.99" x2="513.69" y2="254.61" stroke="#cfcfcf" stroke-width="1"/>
<polyline points="388.3,359.4 388.3,357.4 392.4,357.4 392.6,346.1 396.4,346.1 397,342.7 400.4,342.7 401,337.4 404.4,337.4 405,326 408.4,326 409,320 413.4,320 413.4,297.4 417.1,297.4 417.5,288.7 421.1,288.7 421.7,286.1 425.7,286.1 425.7,277.4 442.4,277.4 442.4,266.5 458.9,266.5 459.6,265.8 463,265.8 463.3,260.3 496.7,260.3 497,260.3 505,260.3 505.5,257.6 505.5,255.5 513.2,255.5" fill="none" stroke="#ff0000" stroke-width="1.3" stroke-linejoin="miter"/>
<polyline points="388.3,359.4 388.3,354.5 400.4,354.5 401,346.1 404.4,346.1 405,337.4 409,337.4 409,317.4 413.1,317.4 413.5,300.5 421.1,300.5 421.7,297.4 425.5,297.4 425.7,286.1 433.8,286.1 434.2,268.6 458.9,268.5 459.6,265.8 463,265.8 463.5,260.3 496.7,260.3 497,257.6 513.2,257.6 513.5,255.2" fill="none" stroke="#0000ff" stroke-width="1.3" stroke-linejoin="miter"/>
<polyline points="387.7,360.1 388.3,342.7 395.7,338.1 397,335 409.7,320 413.7,316 417.7,304 417.7,302.8 423.1,298.8 429.8,294.8 430.4,291.4 434.4,285.4 441.8,282.7 453,277.4 467.2,271.3 472,263 487.1,260.3 513.2,254.8" fill="none" stroke="#00ee00" stroke-width="1.3"/>
<line x1="424.7" y1="341.1" x2="436.1" y2="341.1" stroke="#ff0000" stroke-width="1.2"/>
<text x="442.3" y="343.3" font-size="6.3" text-anchor="start" fill="#222" color="#222" font-family='"Liberation Sans", sans-serif' style="stroke-width:0.1px">Nomogram (0.741)</text>
<line x1="424.7" y1="348.2" x2="436.1" y2="348.2" stroke="#0000ff" stroke-width="1.2"/>
<text x="442.3" y="350.4" font-size="6.3" text-anchor="start" fill="#222" color="#222" font-family='"Liberation Sans", sans-serif' style="stroke-width:0.1px">Deep learning (0.720)</text>
<line x1="424.7" y1="355.5" x2="436.1" y2="355.5" stroke="#00ee00" stroke-width="1.2"/>
<text x="442.3" y="357.7" font-size="6.3" text-anchor="start" fill="#222" color="#222" font-family='"Liberation Sans", sans-serif' style="stroke-width:0.1px">Clinical (0.707)</text>
<line x1="34.9" y1="523.2" x2="171" y2="409.5" stroke="#555" stroke-width="0.9" stroke-dasharray="1.7,1.6"/>
<path d="M44.1,521.3 C49.15,516.32 65.08,500.67 74.4,491.4 C83.72,482.13 94.37,471.35 100,465.7 C105.63,460.05 105.45,460.02 108.2,457.5 C110.95,454.98 113.75,452.78 116.5,450.6 C119.25,448.42 122.07,446.8 124.7,444.4 C127.33,442 130.47,437.92 132.3,436.2 C134.13,434.48 133.98,434.9 135.7,434.1 C137.42,433.3 139.85,432.67 142.6,431.4 C145.35,430.13 148.53,428.33 152.2,426.5 C155.87,424.67 162.53,421.42 164.6,420.4" fill="none" stroke="#2488e0" stroke-width="1.3" stroke-linecap="butt"/>
<line x1="98.5" y1="492.8" x2="110.4" y2="492.8" stroke="#e2e2e2" stroke-width="1"/>
<line x1="98.5" y1="500.2" x2="110.4" y2="500.2" stroke="#8a8a8a" stroke-width="1.3"/>
<line x1="98.5" y1="507.6" x2="110.4" y2="507.6" stroke="#555" stroke-width="0.9" stroke-dasharray="1.7,1.6"/>
<text x="115.5" y="495" font-size="6.3" text-anchor="start" fill="#222" color="#222" font-family='"Liberation Sans", sans-serif' style="stroke-width:0.1px">Apparent</text>
<text x="115.5" y="502.4" font-size="6.3" text-anchor="start" fill="#222" color="#222" font-family='"Liberation Sans", sans-serif' style="stroke-width:0.1px">Bias-corrected</text>
<text x="115.5" y="509.8" font-size="6.3" text-anchor="start" fill="#222" color="#222" font-family='"Liberation Sans", sans-serif' style="stroke-width:0.1px">Ideal</text>
<line x1="208.2" y1="523.2" x2="346" y2="407.7" stroke="#555" stroke-width="0.9" stroke-dasharray="1.7,1.6"/>
<path d="M244.8,495.6 C246.87,493.93 255.13,487.27 257.2,485.6" fill="none" stroke="#888" stroke-width="1.3" stroke-linecap="butt"/>
<path d="M244.8,498.2 C246.87,496.13 253.23,489.45 257.2,485.8 C261.17,482.15 265.58,479.8 268.6,476.3 C271.62,472.8 272.75,468.78 275.3,464.8 C277.85,460.82 280.88,456.22 283.9,452.4 C286.92,448.58 290.53,444.43 293.4,441.9 C296.27,439.37 298.23,438.25 301.1,437.2 C303.97,436.15 307.75,436.23 310.6,435.6 C313.45,434.97 315.33,434.25 318.2,433.4 C321.07,432.55 326.2,430.98 327.8,430.5" fill="none" stroke="#2488e0" stroke-width="1.3" stroke-linecap="butt"/>
<line x1="272.5" y1="492.6" x2="284.4" y2="492.6" stroke="#e2e2e2" stroke-width="1"/>
<line x1="272.5" y1="499.7" x2="284.4" y2="499.7" stroke="#8a8a8a" stroke-width="1.3"/>
<line x1="272.5" y1="507.1" x2="284.4" y2="507.1" stroke="#555" stroke-width="0.9" stroke-dasharray="1.7,1.6"/>
<text x="290" y="494.8" font-size="6.3" text-anchor="start" fill="#222" color="#222" font-family='"Liberation Sans", sans-serif' style="stroke-width:0.1px">Apparent</text>
<text x="290" y="501.9" font-size="6.3" text-anchor="start" fill="#222" color="#222" font-family='"Liberation Sans", sans-serif' style="stroke-width:0.1px">Bias-corrected</text>
<text x="290" y="509.3" font-size="6.3" text-anchor="start" fill="#222" color="#222" font-family='"Liberation Sans", sans-serif' style="stroke-width:0.1px">Ideal</text>
<line x1="382.9" y1="523.4" x2="519.2" y2="408.9" stroke="#555" stroke-width="0.9" stroke-dasharray="1.7,1.6"/>
<path d="M471.9,437.6 C473.43,437.85 477.92,438.1 481.1,439.1 C484.28,440.1 489.35,442.85 491,443.6" fill="none" stroke="#888" stroke-width="1.3" stroke-linecap="butt"/>
<path d="M424.6,495.1 C425.75,495 429.72,495.18 431.5,494.5 C433.28,493.82 433.65,493.23 435.3,491 C436.95,488.77 439.5,484.78 441.4,481.1 C443.3,477.42 444.92,472.98 446.7,468.9 C448.48,464.82 450.18,460.3 452.1,456.6 C454.02,452.9 456.17,449.5 458.2,446.7 C460.23,443.9 462.02,441.32 464.3,439.8 C466.58,438.28 469.1,437.72 471.9,437.6 C474.7,437.48 478.05,438.47 481.1,439.1 C484.15,439.73 488.68,441.02 490.2,441.4" fill="none" stroke="#2488e0" stroke-width="1.3" stroke-linecap="butt"/>
<line x1="446.5" y1="492.8" x2="458.4" y2="492.8" stroke="#e2e2e2" stroke-width="1"/>
<line x1="446.5" y1="500.2" x2="458.4" y2="500.2" stroke="#8a8a8a" stroke-width="1.3"/>
<line x1="446.5" y1="507.6" x2="458.4" y2="507.6" stroke="#555" stroke-width="0.9" stroke-dasharray="1.7,1.6"/>
<text x="463.5" y="495" font-size="6.3" text-anchor="start" fill="#222" color="#222" font-family='"Liberation Sans", sans-serif' style="stroke-width:0.1px">Apparent</text>
<text x="463.5" y="502.4" font-size="6.3" text-anchor="start" fill="#222" color="#222" font-family='"Liberation Sans", sans-serif' style="stroke-width:0.1px">Bias-corrected</text>
<text x="463.5" y="509.8" font-size="6.3" text-anchor="start" fill="#222" color="#222" font-family='"Liberation Sans", sans-serif' style="stroke-width:0.1px">Ideal</text>
</svg>
</body></html>
